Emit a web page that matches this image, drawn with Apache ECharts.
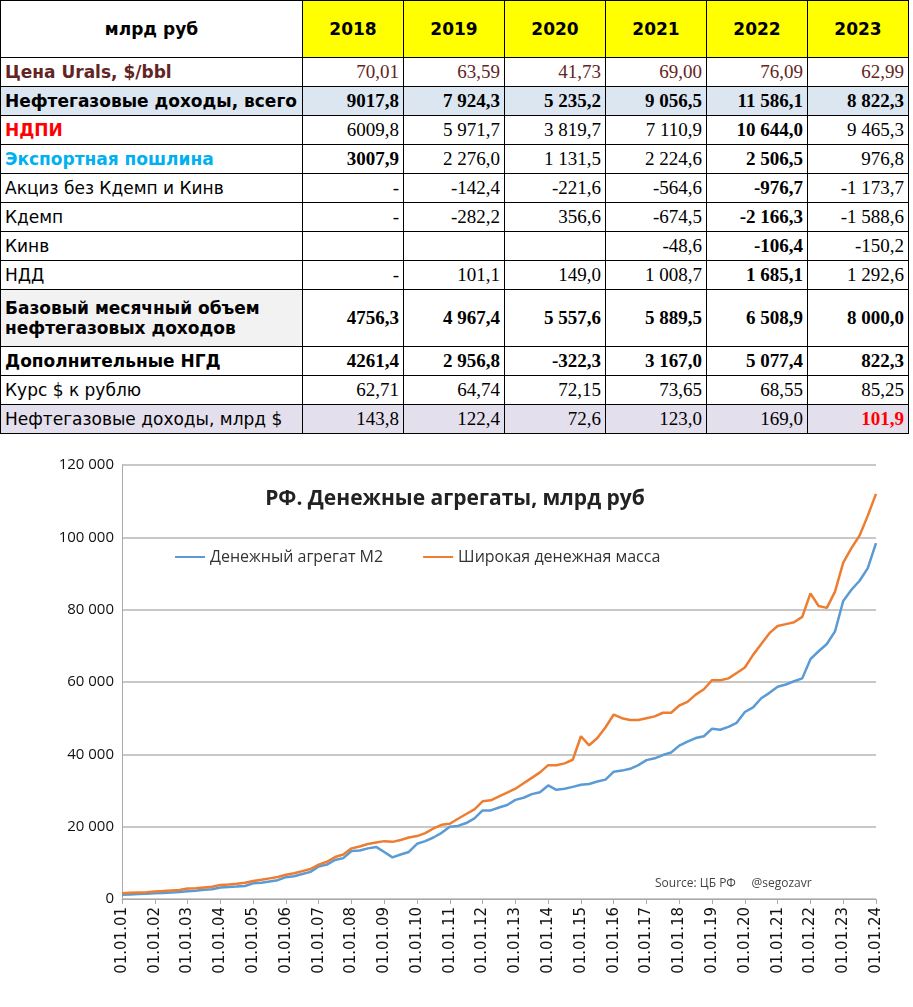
<!DOCTYPE html>
<html>
<head>
<meta charset="utf-8">
<script src="https://cdn.jsdelivr.net/npm/echarts@6/dist/echarts.min.js"></script>
<style>
body { margin: 0; background: #fff; width: 913px; height: 1007px; overflow: hidden; }
table { border-collapse: collapse; table-layout: fixed; width: 908px; }
td { border: 1px solid #000; height: 28px; padding: 0 4px; font-family: "Liberation Serif", serif; font-size: 19px; text-align: right; white-space: nowrap; }
td.lbl { font-family: "DejaVu Sans", sans-serif; font-size: 17px; text-align: left; }
th { border: 1px solid #000; height: 54px; font-family: "DejaVu Sans", sans-serif; font-size: 17px; background: #ffff00; }
th.first { background: #fff; }
.b { font-weight: bold; }
#chart { position: absolute; left: 0; top: 437px; width: 913px; height: 570px; }
</style>
</head>
<body>
<table id="tbl"></table>
<div id="chart"></div>
<script>
// таблица нефтегазовых доходов
const years = ['2018', '2019', '2020', '2021', '2022', '2023'];
const rowLabels = ['Цена Urals, $/bbl', 'Нефтегазовые доходы, всего', 'НДПИ', 'Экспортная пошлина',
  'Акциз без Кдемп и Кинв', 'Кдемп', 'Кинв', 'НДД', 'Базовый месячный объем<br>нефтегазовых доходов',
  'Дополнительные НГД', 'Курс $ к рублю', 'Нефтегазовые доходы, млрд $'];
const rowValues = [
  ['70,01', '63,59', '41,73', '69,00', '76,09', '62,99'],
  ['9017,8', '7 924,3', '5 235,2', '9 056,5', '11 586,1', '8 822,3'],
  ['6009,8', '5 971,7', '3 819,7', '7 110,9', '10 644,0', '9 465,3'],
  ['3007,9', '2 276,0', '1 131,5', '2 224,6', '2 506,5', '976,8'],
  ['-', '-142,4', '-221,6', '-564,6', '-976,7', '-1 173,7'],
  ['-', '-282,2', '356,6', '-674,5', '-2 166,3', '-1 588,6'],
  ['', '', '', '-48,6', '-106,4', '-150,2'],
  ['-', '101,1', '149,0', '1 008,7', '1 685,1', '1 292,6'],
  ['4756,3', '4 967,4', '5 557,6', '5 889,5', '6 508,9', '8 000,0'],
  ['4261,4', '2 956,8', '-322,3', '3 167,0', '5 077,4', '822,3'],
  ['62,71', '64,74', '72,15', '73,65', '68,55', '85,25'],
  ['143,8', '122,4', '72,6', '123,0', '169,0', '101,9']
];

const tbl = document.getElementById('tbl');
let html = '<colgroup><col style="width:302px">' + years.map(() => '<col style="width:101px">').join('') + '</colgroup>';
html += '<tr><th class="first">млрд руб</th>' + years.map(y => '<th>' + y + '</th>').join('') + '</tr>';
rowLabels.forEach((lab, i) => {
  let bg = '';
  if (i === 1) bg = 'background:#dce6f1;';
  if (i === 11) bg = 'background:#e4dfec;';
  let lblStyle = bg;
  let color = '';
  if (i === 0) color = 'color:#632523;';
  if (i === 2) color = 'color:#ff0000;';
  if (i === 3) color = 'color:#00b0f0;';
  if (i === 8) lblStyle += 'background:#f2f2f2;height:56px;';
  const boldLbl = [0, 1, 2, 3, 8, 9].includes(i);
  html += '<tr><td class="lbl' + (boldLbl ? ' b' : '') + '" style="' + lblStyle + color + '">' + lab + '</td>';
  rowValues[i].forEach((v, j) => {
    let b = [1, 8, 9].includes(i) || (j === 4 && i >= 2 && i <= 7) || (i === 3 && j === 0) || (i === 11 && j === 5);
    let c = i === 0 ? 'color:#632523;' : (i === 11 && j === 5 ? 'color:#ff0000;' : '');
    html += '<td class="' + (b ? 'b' : '') + '" style="' + bg + c + '">' + v + '</td>';
  });
  html += '</tr>';
});
tbl.innerHTML = html;

// денежные агрегаты, поквартально 2001-2024
const m2 = [
  1150, 1260, 1370, 1440, 1600, 1680, 1800, 1920, 2130, 2280, 2530, 2680,
  3200, 3320, 3430, 3600, 4350, 4500, 4850, 5200, 6030, 6300, 6900, 7500,
  8970, 9500, 10800, 11300, 13270, 13400, 14000, 14400, 12980, 11500, 12300, 13000,
  15270, 16000, 17000, 18300, 20010, 20200, 21000, 22300, 24480, 24500, 25300, 26000,
  27400, 28000, 29000, 29500, 31400, 30200, 30500, 31000, 31600, 31800, 32500, 33000,
  35200, 35500, 36000, 37000, 38400, 38900, 39800, 40500, 42400, 43500, 44500, 45000,
  47100, 46800, 47600, 48700, 51700, 53000, 55500, 57000, 58700, 59300, 60200, 61000,
  66300, 68500, 70500, 74000, 82400, 85500, 88000, 91500, 98400
];
const broad = [
  1600, 1700, 1800, 1900, 2100, 2200, 2350, 2500, 2900, 3000, 3200, 3400,
  3900, 4000, 4200, 4500, 5000, 5300, 5700, 6100, 6700, 7100, 7700, 8300,
  9500, 10300, 11600, 12300, 14000, 14500, 15200, 15600, 16000, 15800, 16300, 17000,
  17400, 18200, 19500, 20500, 20800, 22200, 23500, 24800, 27000, 27300, 28400, 29400,
  30500, 32000, 33500, 35000, 37000, 37000, 37500, 38500, 45000, 42500, 44500, 47500,
  51000, 50000, 49500, 49500, 50000, 50500, 51500, 51500, 53500, 54500, 56500, 58000,
  60500, 60500, 61000, 62500, 64000, 67500, 70500, 73500, 75500, 76000, 76500, 78000,
  84500, 81000, 80500, 85000, 93000, 97000, 100500, 106000, 112000
];
const quarters = [];
for (let y = 1; y <= 24; y++) {
  const yy = String(y).padStart(2, '0');
  ['01.01.', '01.04.', '01.07.', '01.10.'].forEach(q => quarters.push(q + yy));
}
quarters.length = m2.length;

const myChart = echarts.init(document.getElementById('chart'));
myChart.setOption({
  animation: false,
  title: {
    text: 'РФ. Денежные агрегаты, млрд руб',
    left: 450, top: 47, textAlign: 'center',
    textStyle: { fontFamily: 'Open Sans', fontSize: 21, fontWeight: 'bold', color: '#222' }
  },
  legend: {
    top: 107, left: 170, itemGap: 40, itemWidth: 30, icon: 'rect', itemHeight: 2,
    textStyle: { fontFamily: 'Open Sans', fontSize: 16, color: '#333' },
    data: ['Денежный агрегат М2', 'Широкая денежная масса']
  },
  graphic: [{
    type: 'text', left: 655, top: 441,
    style: { text: 'Source: ЦБ РФ     @segozavr', fontFamily: 'Open Sans', fontSize: 12, fill: '#444' }
  }],
  grid: { left: 122, right: 37, top: 28, bottom: 108 },
  xAxis: {
    type: 'category', data: quarters, boundaryGap: false,
    axisLine: { lineStyle: { color: '#aaa' } },
    axisTick: { interval: 3, length: 5, lineStyle: { color: '#aaa' } },
    axisLabel: { interval: 3, rotate: 90, fontFamily: 'DejaVu Sans', fontSize: 15, color: '#111', showMaxLabel: true }
  },
  yAxis: {
    type: 'value', min: 0, max: 120000, interval: 20000,
    axisLine: { show: true, lineStyle: { color: '#aaa' } },
    axisLabel: { fontFamily: 'Open Sans', fontSize: 15, color: '#111',
      formatter: v => v === 0 ? '0' : String(v).replace(/(\d)(?=(\d{3})+$)/g, '$1 ') },
    splitLine: { lineStyle: { color: '#c8c8c8', width: 2 } }
  },
  series: [
    { name: 'Денежный агрегат М2', type: 'line', data: m2, showSymbol: false,
      lineStyle: { color: '#5b9bd5', width: 2.5 }, itemStyle: { color: '#5b9bd5' } },
    { name: 'Широкая денежная масса', type: 'line', data: broad, showSymbol: false,
      lineStyle: { color: '#ed7d31', width: 2.5 }, itemStyle: { color: '#ed7d31' } }
  ]
});
</script>
</body>
</html>
